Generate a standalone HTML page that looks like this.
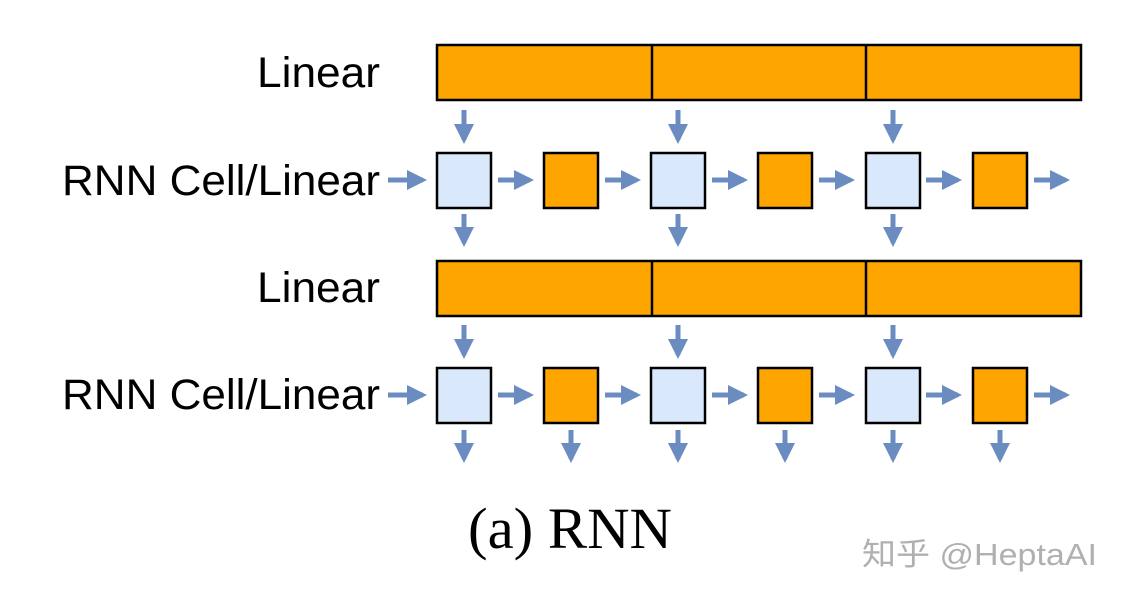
<!DOCTYPE html>
<html><head><meta charset="utf-8"><style>body{margin:0;background:#fff}</style></head><body>
<svg width="1126" height="608" xmlns="http://www.w3.org/2000/svg">
<defs>
<marker id="a" markerWidth="4" markerHeight="4" refX="3.2" refY="2" orient="auto" markerUnits="strokeWidth"><path d="M0,0 L4,2 L0,4 Z" fill="#6a8cc1"/></marker>
</defs>
<g font-family="Liberation Sans, sans-serif" font-size="43" fill="#000">
<text x="257" y="87" textLength="123" lengthAdjust="spacingAndGlyphs">Linear</text>
<text x="62" y="195" textLength="318" lengthAdjust="spacingAndGlyphs">RNN Cell/Linear</text>
<text x="257" y="302" textLength="123" lengthAdjust="spacingAndGlyphs">Linear</text>
<text x="62" y="409" textLength="318" lengthAdjust="spacingAndGlyphs">RNN Cell/Linear</text>
</g>
<g stroke="#000" stroke-width="2.5" fill="#ffa500">
<rect x="437" y="45" width="644" height="55"/><line x1="652" y1="45" x2="652" y2="100"/><line x1="866" y1="45" x2="866" y2="100"/>
<rect x="437" y="261" width="644" height="55"/><line x1="652" y1="261" x2="652" y2="316"/><line x1="866" y1="261" x2="866" y2="316"/>
</g>
<g stroke="#000" stroke-width="2.5">
<g fill="#dae8fc"><rect x="437" y="153" width="54" height="55"/><rect x="651" y="153" width="54" height="55"/><rect x="866" y="153" width="54" height="55"/>
<rect x="437" y="368" width="54" height="55"/><rect x="651" y="368" width="54" height="55"/><rect x="866" y="368" width="54" height="55"/></g>
<g fill="#ffa500"><rect x="544" y="153" width="54" height="55"/><rect x="758" y="153" width="54" height="55"/><rect x="973" y="153" width="54" height="55"/>
<rect x="544" y="368" width="54" height="55"/><rect x="758" y="368" width="54" height="55"/><rect x="973" y="368" width="54" height="55"/></g>
</g>
<g stroke="#6a8cc1" stroke-width="5" marker-end="url(#a)">
<line x1="464" y1="110" x2="464" y2="140"/><line x1="678" y1="110" x2="678" y2="140"/><line x1="893" y1="110" x2="893" y2="140"/>
<line x1="464" y1="214" x2="464" y2="243"/><line x1="678" y1="214" x2="678" y2="243"/><line x1="893" y1="214" x2="893" y2="243"/>
<line x1="464" y1="325" x2="464" y2="355"/><line x1="678" y1="325" x2="678" y2="355"/><line x1="893" y1="325" x2="893" y2="355"/>
<line x1="464" y1="430" x2="464" y2="459"/><line x1="571" y1="430" x2="571" y2="459"/><line x1="678" y1="430" x2="678" y2="459"/><line x1="785" y1="430" x2="785" y2="459"/><line x1="893" y1="430" x2="893" y2="459"/><line x1="1000" y1="430" x2="1000" y2="459"/>
<line x1="388" y1="180" x2="423" y2="180"/><line x1="498" y1="180" x2="530" y2="180"/><line x1="605" y1="180" x2="637" y2="180"/><line x1="712" y1="180" x2="744" y2="180"/><line x1="819" y1="180" x2="851" y2="180"/><line x1="926" y1="180" x2="958" y2="180"/><line x1="1034" y1="180" x2="1066" y2="180"/>
<line x1="388" y1="395" x2="423" y2="395"/><line x1="498" y1="395" x2="530" y2="395"/><line x1="605" y1="395" x2="637" y2="395"/><line x1="712" y1="395" x2="744" y2="395"/><line x1="819" y1="395" x2="851" y2="395"/><line x1="926" y1="395" x2="958" y2="395"/><line x1="1034" y1="395" x2="1066" y2="395"/>
</g>
<text x="468" y="548" font-family="Liberation Serif, serif" font-size="58" textLength="204" lengthAdjust="spacingAndGlyphs">(a) RNN</text>
<text x="862" y="565" font-family="Liberation Sans, 'Noto Sans CJK SC', sans-serif" font-size="31" fill="#b0b0b0" textLength="235" lengthAdjust="spacingAndGlyphs">知乎 @HeptaAI</text>
</svg>
</body></html>
